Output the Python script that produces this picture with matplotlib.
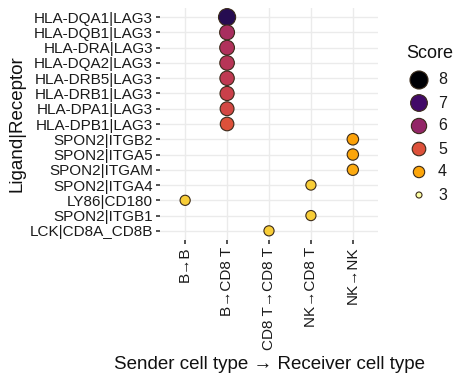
import numpy as np
import matplotlib
matplotlib.use("Agg")
import matplotlib.pyplot as plt

plt.rcParams['font.family'] = ['Liberation Sans', 'DejaVu Sans']

# 行（上から下）と列
pairs = ["HLA-DQA1|LAG3", "HLA-DQB1|LAG3", "HLA-DRA|LAG3", "HLA-DQA2|LAG3",
         "HLA-DRB5|LAG3", "HLA-DRB1|LAG3", "HLA-DPA1|LAG3", "HLA-DPB1|LAG3",
         "SPON2|ITGB2", "SPON2|ITGA5", "SPON2|ITGAM", "SPON2|ITGA4",
         "LY86|CD180", "SPON2|ITGB1", "LCK|CD8A_CD8B"]
groups = ["B→B", "B→CD8 T", "CD8 T→CD8 T", "NK→CD8 T", "NK→NK"]

# 各点
point_pair = pairs
point_group = ["B→CD8 T"] * 8 + ["NK→NK"] * 3 + ["NK→CD8 T", "B→B", "NK→CD8 T", "CD8 T→CD8 T"]
point_score = [7.3, 5.75, 5.65, 5.55, 5.45, 5.3, 5.15, 5.0,
               4.05, 4.0, 3.95, 3.6, 3.6, 3.6, 3.6]

legend_scores = [8, 7, 6, 5, 4, 3]
smin, smax = 3, 8

cmap = plt.get_cmap("inferno")


def score_color(s):
    return cmap(1 - (s - smin) / (smax - smin))


def score_size(s):
    # 直径(px) -> 点の面積(pt^2)
    d_px = 6 + 12 * np.sqrt(max(s - smin, 0) / (smax - smin))
    return (d_px * 0.72) ** 2


fig = plt.figure(figsize=(4.74, 3.79), dpi=100)
ax = fig.add_axes([160 / 474, 1 - 240 / 379, 218 / 474, 232 / 379])

xs = [groups.index(g) for g in point_group]
ys = [pairs.index(p) for p in point_pair]
ax.scatter(xs, ys, s=[score_size(s) for s in point_score],
           c=[score_color(s) for s in point_score],
           edgecolors="#3a2a1a", linewidths=0.8, zorder=3)

ax.set_xlim(-0.6, len(groups) - 0.4)
ax.set_ylim(len(pairs) - 0.4, -0.6)
ax.set_xticks(range(len(groups)))
ax.set_xticklabels(groups, rotation=90, fontsize=11, color="#1a1a1a")
ax.set_yticks(range(len(pairs)))
ax.set_yticklabels(pairs, fontsize=11, color="#1a1a1a")
ax.tick_params(length=3, width=1.2, color="#333333", pad=2)
ax.grid(True, color="#ebebeb", linewidth=1)
ax.set_axisbelow(True)
for sp in ax.spines.values():
    sp.set_visible(False)

ax.set_xlabel("Sender cell type → Receiver cell type", fontsize=13.5, color="#111111")
ax.xaxis.set_label_coords(0.5, -0.5)
ax.set_ylabel("Ligand|Receptor", fontsize=13.5, color="#111111", labelpad=3)

# 凡例
lax = fig.add_axes([0, 0, 1, 1])
lax.set_xlim(0, 474)
lax.set_ylim(379, 0)
lax.axis("off")
lax.text(406, 53, "Score", fontsize=13, va="center", ha="left", color="#111111")
ly = [80 + i * 23 for i in range(len(legend_scores))]
lax.scatter([419] * len(legend_scores), ly,
            s=[score_size(s) for s in legend_scores],
            c=[score_color(s) for s in legend_scores],
            edgecolors="#3a2a1a", linewidths=0.8)
for y, s in zip(ly, legend_scores):
    lax.text(438, y, str(s), fontsize=11.5, va="center", ha="left", color="#1a1a1a")

fig.savefig("out.png", dpi=100)
